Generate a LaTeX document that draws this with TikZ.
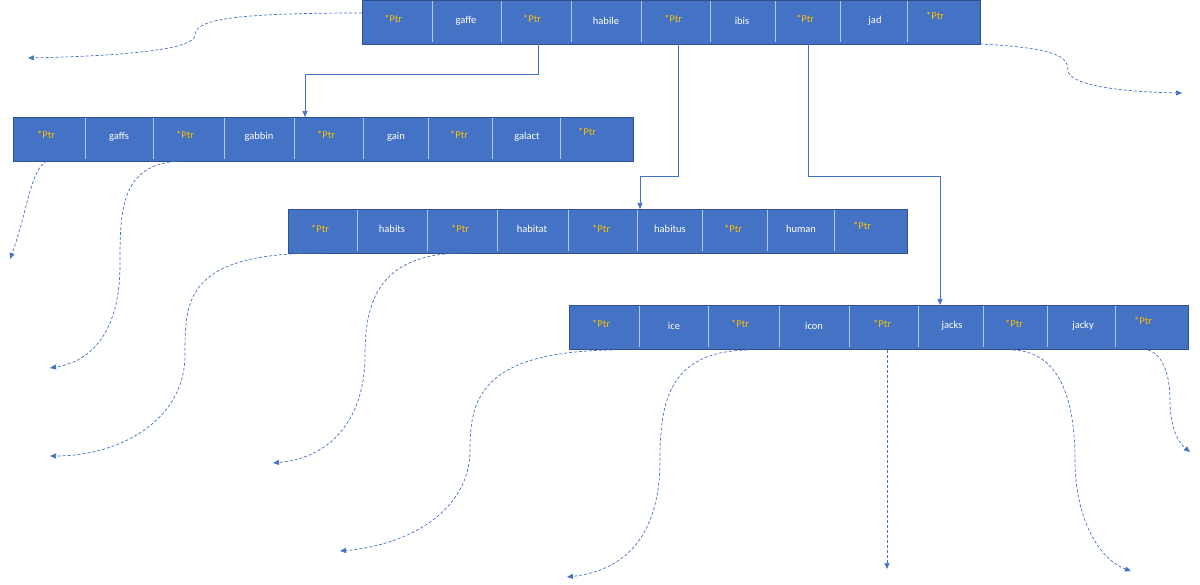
\documentclass[tikz,border=0pt]{standalone}
\usepackage{fontspec}
\setmainfont{Carlito}
\usetikzlibrary{arrows.meta}
\definecolor{bfill}{HTML}{4472C4}
\definecolor{bdraw}{HTML}{2F528F}
\definecolor{bdiv}{HTML}{B4C7E7}
\definecolor{ptr}{HTML}{FFC000}
\tikzset{
 box/.style={draw=bdraw,fill=bfill,line width=1pt,minimum height=44pt,inner sep=0pt,anchor=north west},
 cell/.style={font=\fontsize{10.5}{12}\selectfont,text=white},
 pcell/.style={font=\fontsize{10.5}{12}\selectfont,text=ptr},
 div/.style={draw=bdiv,line width=0.8pt},
 link/.style={draw=bfill,line width=0.7pt,-{Triangle[length=6pt,width=5pt]}},
 dlink/.style={draw=bfill,line width=0.7pt,dash pattern=on 3pt off 2pt,-{Triangle[length=6pt,width=5pt]}}
}
\begin{document}
\begin{tikzpicture}[x=1pt,y=-1pt]
\useasboundingbox (0,0) rectangle (1200,585);
% box drawing helper via foreach
\newcommand{\mybox}[6]{% name, x, y, width, dividers, labels
 \node[box,minimum width=#4pt] (#1) at (#2,#3) {};
 \foreach \d in {#5} {\draw[div] (\d,#3+1.5) -- (\d,#3+42.5);}
}
\mybox{b1}{362}{0}{618}{432,501,571,641,710,775,840,907}{}
\mybox{b2}{13}{117}{620}{85,153,224,294,363,428,492,560}{}
\mybox{b3}{288}{209}{619}{357,427,497,568,637,702,767,834}{}
\mybox{b4}{569}{305}{619}{639,708,779,849,918,983,1047,1115}{}
% texts b1
\node[pcell] (t11) at (393,19) {*Ptr};
\node[cell] (t12) at (466,21) {gaffe};
\node[pcell] (t13) at (532,19) {*Ptr};
\node[cell] (t14) at (606,21) {habile};
\node[pcell] (t15) at (673,19) {*Ptr};
\node[cell] (t16) at (742,21) {ibis};
\node[pcell] (t17) at (805,19) {*Ptr};
\node[cell] (t18) at (875,21) {jad};
\node[pcell] (t19) at (935,16) {*Ptr};
% b2
\node[pcell] (t21) at (46,135) {*Ptr};
\node[cell] (t22) at (119,137) {gaffs};
\node[pcell] (t23) at (185,135) {*Ptr};
\node[cell] (t24) at (259,137) {gabbin};
\node[pcell] (t25) at (326,135) {*Ptr};
\node[cell] (t26) at (396,137) {gain};
\node[pcell] (t27) at (459,135) {*Ptr};
\node[cell] (t28) at (527,137) {galact};
\node[pcell] (t29) at (587,132) {*Ptr};
% b3
\node[pcell] (t31) at (320,229) {*Ptr};
\node[cell] (t32) at (392,229) {habits};
\node[pcell] (t33) at (460,229) {*Ptr};
\node[cell] (t34) at (532,229) {habitat};
\node[pcell] (t35) at (601,229) {*Ptr};
\node[cell] (t36) at (670,229) {habitus};
\node[pcell] (t37) at (733,229) {*Ptr};
\node[cell] (t38) at (801,229) {human};
\node[pcell] (t39) at (862,226) {*Ptr};
% b4
\node[pcell] (t41) at (601,324) {*Ptr};
\node[cell] (t42) at (674,326) {ice};
\node[pcell] (t43) at (740,324) {*Ptr};
\node[cell] (t44) at (814,326) {icon};
\node[pcell] (t45) at (882,324) {*Ptr};
\node[cell] (t46) at (952,326) {jacks};
\node[pcell] (t47) at (1014,324) {*Ptr};
\node[cell] (t48) at (1083,326) {jacky};
\node[pcell] (t49) at (1143,321) {*Ptr};
% solid links
\draw[link] (538,44) -- (538,74) -- (305,74) -- (305,117);
\draw[link] (678,44) -- (678,176) -- (640,176) -- (640,209);
\draw[link] (808,44) -- (808,176) -- (940,176) -- (940,305);
% dashed links
\coordinate (e1) at (28,58);
\draw[dlink] (362,13) .. controls (230,13) and (195,20) .. (195,35) .. controls (195,50) and (120,56) .. (e1);
\coordinate (e2) at (1182,93);
\draw[dlink] (980,44) .. controls (1060,48) and (1068,58) .. (1068,70) .. controls (1068,85) and (1120,92) .. (e2);
\coordinate (e3) at (10,259);
\draw[dlink] (47,161) .. controls (30,170) and (28,210) .. (e3);
\coordinate (e4) at (50,368);
\draw[dlink] (185,161) .. controls (120,161) and (120,210) .. (120,265) .. controls (120,320) and (100,360) .. (e4);
\coordinate (e5) at (50,456);
\draw[dlink] (322,253) .. controls (185,253) and (185,300) .. (185,355) .. controls (185,420) and (120,456) .. (e5);
\coordinate (e6) at (273,463);
\draw[dlink] (465,253) .. controls (380,253) and (365,300) .. (365,355) .. controls (365,420) and (330,458) .. (e6);
\coordinate (e7) at (340,551);
\draw[dlink] (612,350) .. controls (480,352) and (470,400) .. (470,450) .. controls (470,510) and (410,545) .. (e7);
\coordinate (e8) at (567,577);
\draw[dlink] (747,350) .. controls (670,352) and (660,400) .. (660,460) .. controls (660,530) and (630,570) .. (e8);
\coordinate (e9) at (887,569);
\draw[dlink] (887,350) -- (e9);
\coordinate (e10) at (1131,571);
\draw[dlink] (1013,350) .. controls (1060,352) and (1075,400) .. (1075,460) .. controls (1075,520) and (1100,560) .. (e10);
\coordinate (e11) at (1190,452);
\draw[dlink] (1148,350) .. controls (1165,355) and (1170,380) .. (1170,400) .. controls (1170,420) and (1175,440) .. (e11);
\end{tikzpicture}
\end{document}
